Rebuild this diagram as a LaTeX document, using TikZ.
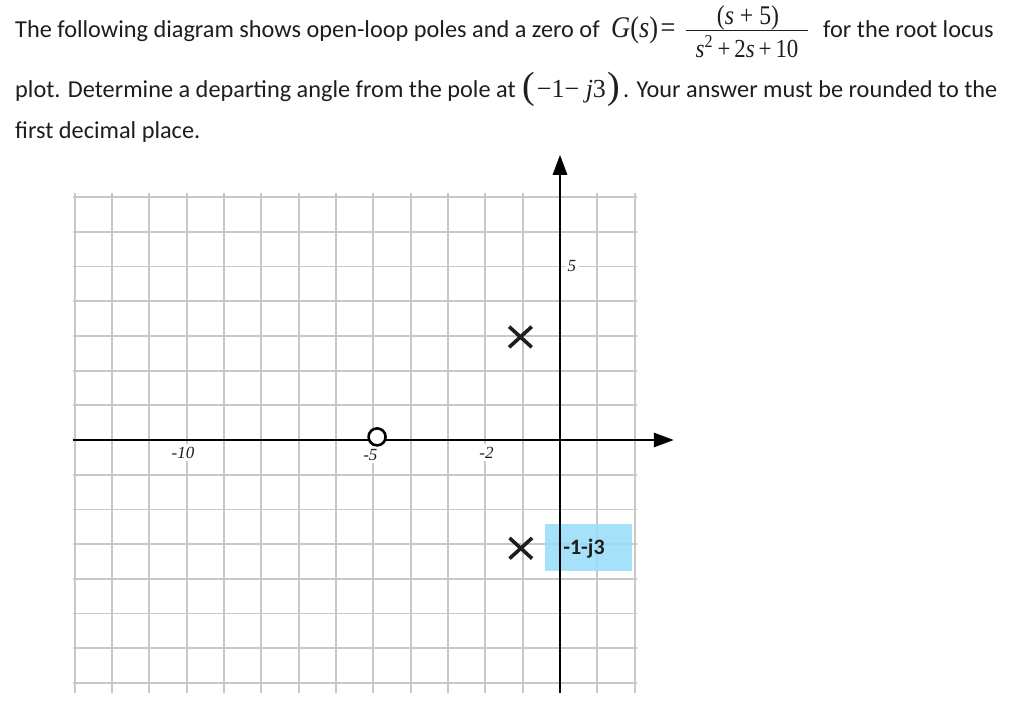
\documentclass[tikz,border=0pt]{standalone}
\usepackage{fontspec}
\setmainfont{Carlito}
\newfontfamily\tms{Liberation Serif}
\newfontfamily\tmsn[FakeStretch=0.88]{Liberation Serif}
\usetikzlibrary{arrows.meta,shapes.misc}
\definecolor{gridgray}{RGB}{200,200,200}
\definecolor{inkdark}{RGB}{30,30,30}
\definecolor{boxblue}{RGB}{150,222,248}
\tikzset{
  txt/.style={anchor=base west, inner sep=0pt, font=\fontsize{24.3}{28}\selectfont, text=inkdark},
  mth/.style={anchor=base west, inner sep=0pt, text=inkdark},
  gridline/.style={draw=gridgray, line width=1.8pt},
  axisline/.style={draw=black, line width=2.8pt, -{Triangle[length=20pt,width=14pt]}},
  ticklbl/.style={fill=white, inner sep=2.5pt, font=\tms\itshape\fontsize{17}{19}\selectfont, text=inkdark},
  zeromark/.style={circle, draw=black, fill=white, line width=2.6pt, minimum size=17pt, inner sep=0pt},
  polemark/.style={cross out, draw=inkdark, line width=3.6pt, minimum width=19pt, minimum height=17pt, inner sep=0pt},
}
\begin{document}
\begin{tikzpicture}[x=1pt,y=-1pt]
\useasboundingbox[fill=white] (0,0) rectangle (1024,724);
% header text
\node[txt] (l1a) at (15,37) {The following diagram shows open-loop poles and a zero of};
\node[mth, font=\tmsn\fontsize{30}{32}\selectfont] (gs) at (611,37) {\textit{G}(\textit{s})\hspace{0.08em}=};
\node[mth, anchor=base, font=\tmsn\fontsize{27}{30}\selectfont] (num) at (748,24) {(\textit{s}\hspace{0.22em}+\hspace{0.22em}5)};
\coordinate (barL) at (686,30.5);
\coordinate (barR) at (808,30.5);
\draw[inkdark, line width=1.1pt] (barL) -- (barR);
\node[mth, anchor=base, font=\tmsn\fontsize{26}{30}\selectfont] (den) at (747,57) {\textit{s}\textsuperscript{2}\hspace{0.18em}+\hspace{0.15em}2\textit{s}\hspace{0.15em}+\hspace{0.15em}10};
\node[txt] (l1b) at (823,37) {for the root locus};
\node[txt] (l2a) at (15,97) {plot. Determine a departing angle from the pole at};
\node[mth, font=\tms\fontsize{26}{30}\selectfont] (pole) at (522,97) {\raisebox{-1pt}{\fontsize{38}{40}\selectfont(}\hspace{0.08em}\textminus1\textminus\hspace{0.25em}\textit{j}3\hspace{0.05em}\raisebox{-1pt}{\fontsize{38}{40}\selectfont)}};
\node[txt] (l2b) at (623,97) {. Your answer must be rounded to the};
\node[txt] (l3) at (15,138) {first decimal place.};
% plot
\begin{scope}[shift={(560pt,-440pt)}, x=37.33pt, y=34.7pt]
  \foreach \i in {-13,...,2} {
    \ifnum\i=0\relax\else
      \draw[gridline] (\i,-7.29) -- (\i,7.12);
    \fi
  }
  \foreach \j in {-7,...,7} {
    \ifnum\j=0\relax\else
      \draw[gridline] (-13.05,\j) -- (2.06,\j);
    \fi
  }
  \fill[boxblue, fill opacity=0.85] (-0.4,-2.42) rectangle (1.93,-3.77);
  \coordinate (xs) at (-13.05,0);
  \coordinate (xe) at (3.05,0);
  \coordinate (ys) at (0,-7.29);
  \coordinate (ye) at (0,8.22);
  \draw[axisline] (xs) -- (xe);
  \draw[axisline] (ys) -- (ye);
  \node[ticklbl] (t10) at (-10.1,-0.36) {-10};
  \node[ticklbl] (t5) at (-5.08,-0.42) {-5};
  \node[ticklbl] (t2) at (-1.97,-0.36) {-2};
  \node[ticklbl] (t5y) at (0.32,5.0) {5};
  \node[zeromark] (z) at (-4.9,0.09) {};
  \node[polemark] (p1) at (-1.06,2.97) {};
  \node[polemark] (p2) at (-1.05,-3.12) {};
  \node[anchor=base, inner sep=0pt, font=\bfseries\fontsize{22}{26}\selectfont, text=inkdark] (pl) at (0.643,-3.285) {-1-j3};
\end{scope}
\end{tikzpicture}
\end{document}
